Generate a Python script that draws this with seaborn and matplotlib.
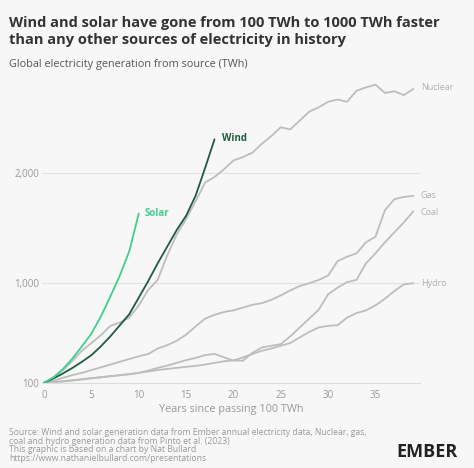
import matplotlib
matplotlib.use('Agg')
import matplotlib.pyplot as plt
import seaborn as sns
import pandas as pd

# Values (TWh by years since passing 100 TWh)
solar = [100, 150, 225, 320, 430, 545, 700, 880, 1070, 1290, 1630]
wind = [100, 140, 185, 235, 290, 350, 430, 520, 620, 720, 870, 1020, 1180, 1330,
        1480, 1610, 1790, 2040, 2300]
nuclear = [100, 150, 215, 300, 390, 460, 530, 615, 645, 690, 800, 940, 1030, 1250,
           1440, 1580, 1740, 1910, 1960, 2030, 2110, 2140, 2180, 2260, 2330, 2410,
           2390, 2470, 2550, 2590, 2640, 2660, 2640, 2740, 2770, 2795, 2720, 2735,
           2700, 2756]
gas = [100, 120, 145, 170, 190, 215, 240, 265, 290, 315, 340, 360, 410, 440, 480,
       535, 610, 680, 715, 740, 755, 780, 805, 820, 850, 890, 935, 975, 1000, 1030,
       1070, 1200, 1240, 1270, 1370, 1420, 1660, 1760, 1780, 1790]
coal = [100, 105, 112, 120, 130, 140, 150, 160, 170, 178, 190, 210, 235, 255, 280,
        305, 325, 350, 362, 330, 302, 300, 370, 420, 435, 450, 520, 600, 680, 760,
        900, 960, 1010, 1030, 1180, 1270, 1370, 1460, 1550, 1650]
hydro = [100, 108, 116, 124, 133, 142, 151, 160, 168, 178, 190, 203, 215, 226, 235,
         245, 253, 265, 280, 295, 302, 330, 360, 390, 410, 435, 460, 510, 560, 600,
         615, 620, 690, 730, 755, 800, 860, 930, 990, 1000]

series = {'Nuclear': nuclear, 'Gas': gas, 'Coal': coal, 'Hydro': hydro,
          'Wind': wind, 'Solar': solar}
rows = []
for name, vals in series.items():
    for i, v in enumerate(vals):
        rows.append({'source': name, 'year': i, 'twh': v})
df = pd.DataFrame(rows)

bg = '#f7f7f7'
gray = '#bdbdbd'
palette = {'Nuclear': gray, 'Gas': gray, 'Coal': gray, 'Hydro': gray,
           'Wind': '#1f5c3d', 'Solar': '#3fcf8e'}

sns.set_style('white')
plt.rcParams['font.family'] = ['Open Sans', 'DejaVu Sans']

fig = plt.figure(figsize=(4.74, 4.68), dpi=100, facecolor=bg)
ax = fig.add_axes([0.089, 0.182, 0.797, 0.662], facecolor=bg)
sns.lineplot(data=df, x='year', y='twh', hue='source', palette=palette,
             linewidth=1.3, legend=False, ax=ax)

ax.set_xlim(-0.2, 39.7)
ax.set_ylim(100, 2900)
ax.set_yticks([100, 1000, 2000])
ax.set_yticklabels(['100', '1,000', '2,000'])
ax.set_xticks(range(0, 40, 5))
for y in [1000, 2000]:
    ax.axhline(y, color='#e2e2e2', lw=0.8, zorder=0)
for s in ['top', 'right', 'left']:
    ax.spines[s].set_visible(False)
ax.spines['bottom'].set_color('#dddddd')
ax.tick_params(axis='x', length=3, color='#cccccc', labelsize=7, labelcolor='#999999', pad=2)
ax.tick_params(axis='y', length=0, labelsize=7, labelcolor='#999999', pad=2)
ax.set_xlabel('Years since passing 100 TWh', fontsize=7.8, color='#999999', labelpad=2)
ax.set_ylabel('')

ends = {'Nuclear': (39.8, 2770), 'Gas': (39.8, 1790), 'Coal': (39.8, 1640),
        'Hydro': (39.8, 1000)}
for name, (x, y) in ends.items():
    ax.text(x, y, name, fontsize=6.5, color='#b0b0b0', va='center', clip_on=False)
ax.text(10.6, 1630, 'Solar', fontsize=7, color='#3fcf8e', weight='bold', va='center')
ax.text(18.8, 2310, 'Wind', fontsize=7, color='#1f5c3d', weight='bold', va='center')

fig.text(0.02, 0.965, 'Wind and solar have gone from 100 TWh to 1000 TWh faster\n'
         'than any other sources of electricity in history',
         fontsize=10.5, weight='bold', color='#333333', va='top', linespacing=1.25)
fig.text(0.02, 0.875, 'Global electricity generation from source (TWh)',
         fontsize=7.8, color='#555555', va='top')
fig.text(0.02, 0.085, 'Source: Wind and solar generation data from Ember annual electricity data, Nuclear, gas,\n'
         'coal and hydro generation data from Pinto et al. (2023)\n'
         'This graphic is based on a chart by Nat Bullard\n'
         'https://www.nathanielbullard.com/presentations',
         fontsize=6.2, color='#999999', va='top', linespacing=0.92)
fig.text(0.965, 0.035, 'EMBER', fontsize=13, weight='bold', color='#222222',
         ha='right', va='center')

fig.savefig('out.png', dpi=100, facecolor=bg)
